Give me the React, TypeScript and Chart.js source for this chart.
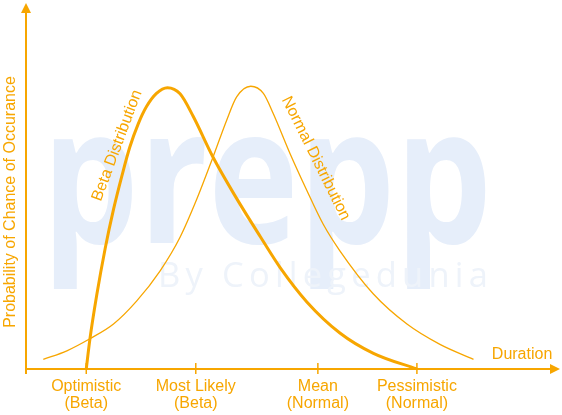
import { useEffect, useRef } from 'react';
import { Chart, registerables } from 'chart.js';

Chart.register(...registerables);

const ORANGE = '#F7A600';
const FONT = "'Liberation Sans', Arial, sans-serif";

// Duration positions of the labelled ticks
const tickValues = [11.5, 32.4, 55.7, 74.6];
const tickLabels = [
  ['Optimistic', '(Beta)'],
  ['Most Likely', '(Beta)'],
  ['Mean', '(Normal)'],
  ['Pessimistic', '(Normal)'],
];

// Beta distribution curve (duration, probability)
const betaX = [11.5, 12.2, 13.5, 15.1, 16.7, 18.3, 19.8, 21.4, 23.0, 24.9, 27.0, 29.4, 31.9, 35.7, 40.1, 44.7, 48.5, 53.6, 59.9, 66.3, 74.6];
const betaY = [0, 8.4, 20.7, 33.7, 44.7, 54.1, 62.1, 68.6, 73.5, 77.2, 78.8, 77.1, 70.8, 59.3, 48.0, 37.1, 28.4, 18.8, 10.1, 4.4, 0];

// Normal distribution curve (duration, probability)
const normalX = [3.3, 7.8, 12.1, 16.7, 21.1, 25.6, 29.4, 32.6, 35.7, 38.3, 40.2, 42.9, 45.3, 47.2, 50.4, 53.6, 56.7, 59.9, 66.3, 72.7, 79.0, 85.4];
const normalY = [2.7, 5.1, 8.4, 12.6, 19.0, 27.5, 36.9, 47.6, 59.4, 69.7, 76.2, 79.2, 77.2, 71.5, 60.3, 50.0, 40.6, 33.1, 21.0, 12.6, 6.9, 2.7];

const seriesNames = ['Beta Distribution', 'Normal Distribution'];
const yTitle = 'Probability of Chance of Occurance';
const xTitle = 'Duration';
const watermark = ['prepp', 'By Collegedunia'];

const overlayPlugin = {
  id: 'overlay',
  beforeDatasetsDraw(chart: any) {
    const { ctx } = chart;
    ctx.save();
    ctx.textAlign = 'left';
    ctx.textBaseline = 'alphabetic';
    ctx.fillStyle = '#E6EEFA';
    ctx.font = `bold 190px 'Open Sans', sans-serif`;
    ctx.fillText(watermark[0], 42, 243, 450);
    ctx.fillStyle = '#EEF3FA';
    ctx.font = `35px 'Open Sans', sans-serif`;
    const w = ctx.measureText(watermark[1]).width;
    if (w < 335 && 'letterSpacing' in ctx) {
      (ctx as any).letterSpacing = `${(335 - w) / (watermark[1].length - 1)}px`;
    }
    ctx.fillText(watermark[1], 158, 287, 335);
    ctx.restore();
  },
  afterDatasetsDraw(chart: any) {
    const { ctx, chartArea } = chart;
    const xs = chart.scales.x;
    const ys = chart.scales.y;
    const { left, right, top, bottom } = chartArea;
    ctx.save();
    ctx.strokeStyle = ORANGE;
    ctx.fillStyle = ORANGE;

    // axes
    ctx.lineWidth = 2;
    ctx.beginPath();
    ctx.moveTo(left, bottom + 5);
    ctx.lineTo(left, top - 1);
    ctx.moveTo(left - 1, bottom);
    ctx.lineTo(right + 1, bottom);
    ctx.stroke();
    // arrows
    ctx.beginPath();
    ctx.moveTo(left, top - 9);
    ctx.lineTo(left - 5, top + 1);
    ctx.lineTo(left + 5, top + 1);
    ctx.closePath();
    ctx.fill();
    ctx.beginPath();
    ctx.moveTo(right + 10, bottom);
    ctx.lineTo(right, bottom - 5);
    ctx.lineTo(right, bottom + 5);
    ctx.closePath();
    ctx.fill();

    // tick marks
    ctx.lineWidth = 1.5;
    ctx.beginPath();
    tickValues.forEach((v) => {
      const px = xs.getPixelForValue(v);
      ctx.moveTo(px, bottom - 6);
      ctx.lineTo(px, bottom + 5);
    });
    ctx.stroke();

    ctx.font = `16px ${FONT}`;

    // curve labels
    const drawRot = (text: string, xv: number, yv: number, deg: number) => {
      ctx.save();
      ctx.translate(xs.getPixelForValue(xv), ys.getPixelForValue(yv));
      ctx.rotate((deg * Math.PI) / 180);
      ctx.textAlign = 'center';
      ctx.textBaseline = 'middle';
      ctx.fillText(text, 0, 0);
      ctx.restore();
    };
    drawRot(seriesNames[0], 17.4, 62.6, -69.6);
    drawRot(seriesNames[1], 55.3, 59.0, 63.6);

    // x title
    ctx.textAlign = 'left';
    ctx.textBaseline = 'alphabetic';
    ctx.fillText(xTitle, xs.getPixelForValue(88.9), ys.getPixelForValue(2.8));

    // y title
    ctx.save();
    ctx.translate(left - 11, 202);
    ctx.rotate(-Math.PI / 2);
    ctx.textAlign = 'center';
    ctx.textBaseline = 'alphabetic';
    ctx.fillText(yTitle, 0, 0);
    ctx.restore();

    ctx.restore();
  },
};

export default function App() {
  const ref = useRef<HTMLCanvasElement>(null);
  useEffect(() => {
    document.body.style.margin = '0';
    const canvas = ref.current;
    if (!canvas) return;
    const chart = new Chart(canvas, {
      type: 'line',
      data: {
        datasets: [
          {
            label: seriesNames[0],
            data: betaX.map((x, i) => ({ x, y: betaY[i] })),
            borderColor: ORANGE,
            borderWidth: 3,
            pointRadius: 0,
            fill: false,
            cubicInterpolationMode: 'monotone',
          },
          {
            label: seriesNames[1],
            data: normalX.map((x, i) => ({ x, y: normalY[i] })),
            borderColor: ORANGE,
            borderWidth: 1.3,
            pointRadius: 0,
            fill: false,
            cubicInterpolationMode: 'monotone',
          },
        ],
      },
      options: {
        animation: false,
        responsive: false,
        maintainAspectRatio: false,
        layout: { padding: { left: 26, right: 12, top: 12, bottom: -6 } },
        plugins: { legend: { display: false }, tooltip: { enabled: false } },
        scales: {
          x: {
            type: 'linear',
            min: 0,
            max: 100,
            grid: { display: false, drawTicks: false },
            border: { display: false },
            afterBuildTicks: (s: any) => {
              s.ticks = tickValues.map((v) => ({ value: v }));
            },
            ticks: {
              autoSkip: false,
              maxRotation: 0,
              minRotation: 0,
              padding: 9,
              color: ORANGE,
              font: { size: 16, family: FONT, lineHeight: 1.0625 },
              callback: (_v: any, i: number) => tickLabels[i] ?? '',
            },
          },
          y: { display: false, min: 0, max: 100 },
        },
      },
      plugins: [overlayPlugin],
    } as any);
    return () => chart.destroy();
  }, []);
  return (
    <div style={{ width: 562, height: 415 }}>
      <canvas ref={ref} width={562} height={415} style={{ display: 'block' }} />
    </div>
  );
}
